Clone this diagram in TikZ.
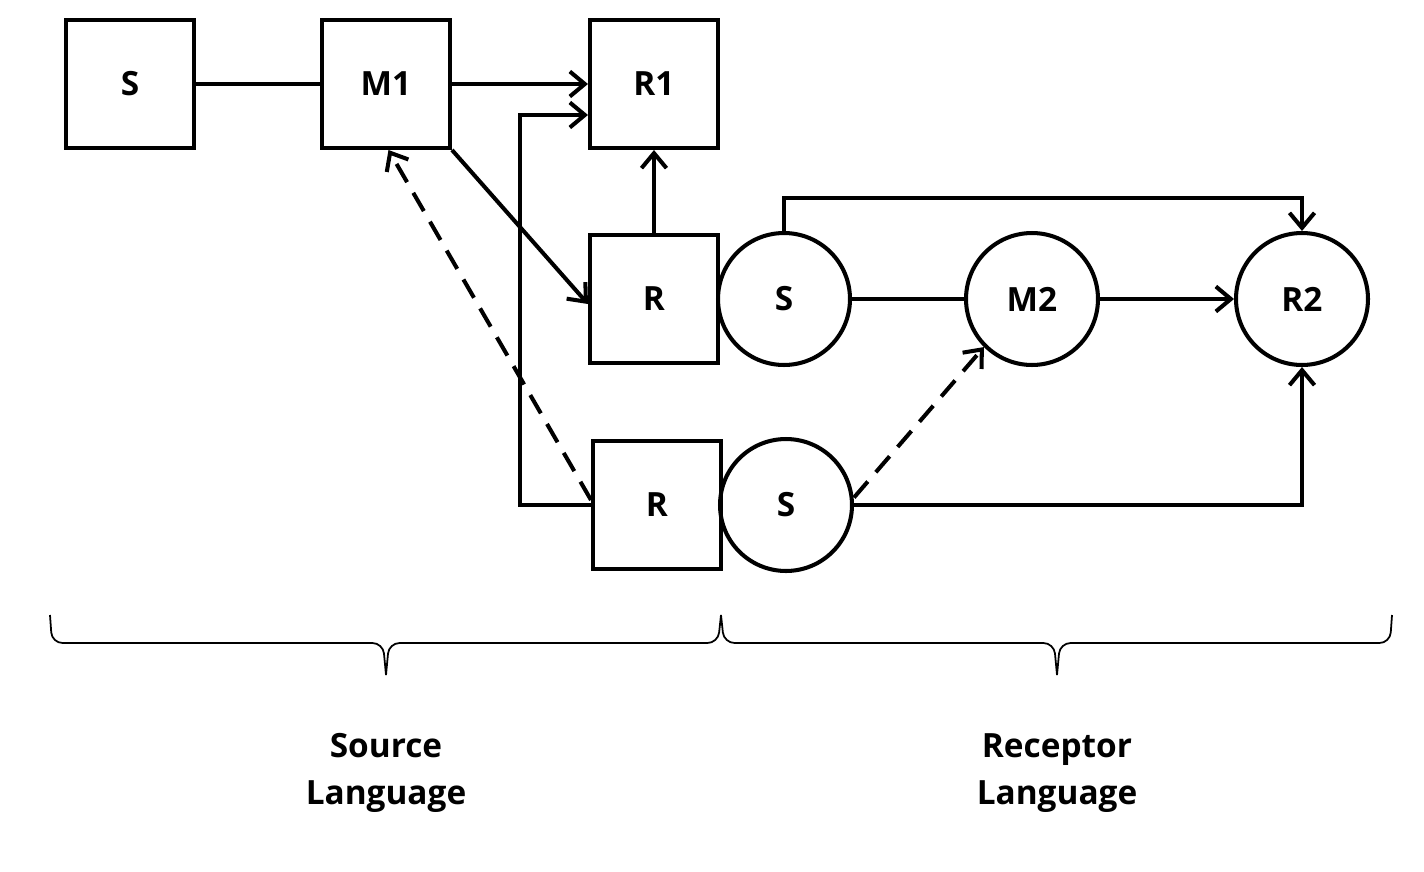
\documentclass[tikz,border=0pt]{standalone}
\usepackage{fontspec}
\setmainfont{Open Sans}
\usetikzlibrary{positioning,arrows.meta}

\tikzset{
  box/.style={draw, line width=2.3pt, minimum size=2.56cm, inner sep=0pt,
    font=\fontsize{19}{22}\selectfont\bfseries},
  circ/.style={draw, circle, line width=2.3pt, minimum size=2.64cm, inner sep=0pt,
    font=\fontsize{19}{22}\selectfont\bfseries},
  link/.style={line width=2.3pt},
  arr/.style={link, -{Straight Barb[length=3mm,width=5mm]}},
  dasharr/.style={arr, dash pattern=on 12pt off 7pt},
  brc/.style={line width=1pt, rounded corners=6pt},
  lang/.style={align=center, font=\fontsize{19}{27}\selectfont\bfseries}
}

\begin{document}
\begin{tikzpicture}[x=0.02cm, y=-0.02cm]
  \useasboundingbox (0,0) rectangle (1424,872);

  \node [box] (src)  at (130,84)  {S};
  \node [box] (m1)   at (386,84)  {M1};
  \node [box] (r1)   at (654,84)  {R1};
  \node [box] (rmid) at (654,299) {R};
  \node [box] (rbot) at (657,505) {R};

  \node [circ] (smid) at (784,299)  {S};
  \node [circ] (m2)   at (1032,299) {M2};
  \node [circ] (r2)   at (1302,299) {R2};
  \node [circ] (sbot) at (786,505)  {S};

  \draw[link] (src) -- (m1);
  \draw[arr] (m1) -- (r1);
  \draw[arr] (rbot.west) -- (520,505) |- ([yshift=-0.62cm]r1.west);
  \draw[arr] (m1.south east) -- ([yshift=-0.1cm]rmid.west);
  \draw[arr] (rmid) -- (r1);
  \draw[dasharr] ([yshift=0.1cm]rbot.west) -- ([xshift=0.05cm]m1.south);

  \draw[arr] (smid.north) -- (784,198) -| (r2.north);
  \draw[link] (smid) -- (m2);
  \draw[arr] (m2) -- (r2);
  \draw[dasharr] ([yshift=0.15cm]sbot.east) -- (m2.south west);
  \draw[arr] (sbot.east) -| (r2.south);

  % brackets
  \draw[brc] (50,615) -- (52,643) -- (383,643) -- (386,675);
  \draw[brc] (386,675) -- (389,643) -- (718,643) -- (721,615);
  \draw[brc] (721,615) -- (724,643) -- (1054,643) -- (1057,675);
  \draw[brc] (1057,675) -- (1060,643) -- (1390,643) -- (1392,615);

  \node [lang] (srclang) at (386,773) {Source\\Language};
  \node [lang] (reclang) at (1057,773) {Receptor\\Language};
\end{tikzpicture}
\end{document}
